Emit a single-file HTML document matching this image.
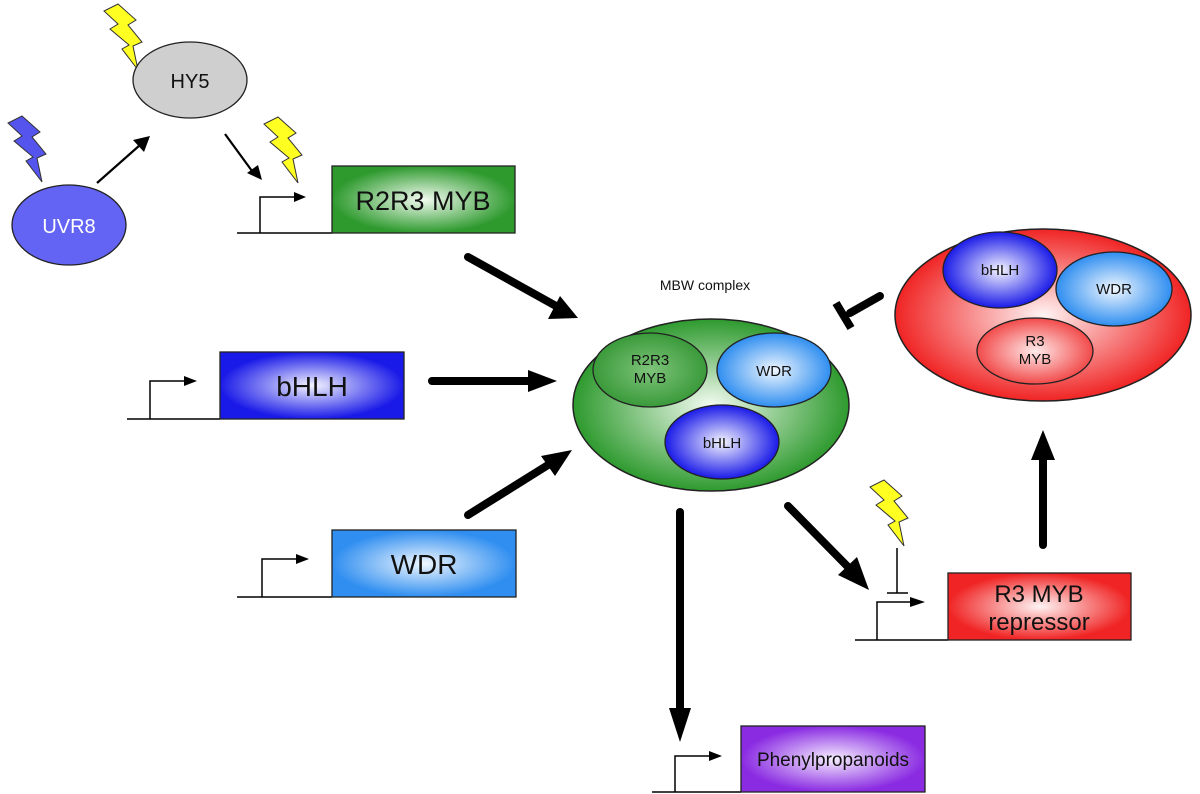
<!DOCTYPE html>
<html><head><meta charset="utf-8"><style>
html,body{margin:0;padding:0;background:#fff;}
svg{display:block;}
text{font-family:"Liberation Sans",sans-serif;fill:#111;text-anchor:middle;}
</style></head><body>
<svg width="1200" height="794" viewBox="0 0 1200 794" xmlns="http://www.w3.org/2000/svg">
<defs>
<radialGradient id="gGreen"><stop offset="0" stop-color="#f2fbf0"/><stop offset="1" stop-color="#2e9a2e"/></radialGradient>
<radialGradient id="gGreen2"><stop offset="0" stop-color="#7ec47a"/><stop offset="1" stop-color="#3a9a3a"/></radialGradient>
<radialGradient id="gBlue"><stop offset="0" stop-color="#f4f4ff"/><stop offset="1" stop-color="#1a1ae8"/></radialGradient>
<radialGradient id="gLBlue"><stop offset="0" stop-color="#f0f7ff"/><stop offset="1" stop-color="#2f8ef0"/></radialGradient>
<radialGradient id="gRed"><stop offset="0" stop-color="#fff4f4"/><stop offset="1" stop-color="#f02424"/></radialGradient>
<radialGradient id="gRed2"><stop offset="0" stop-color="#ffeaea"/><stop offset="1" stop-color="#f24a4a"/></radialGradient>
<radialGradient id="gPurple"><stop offset="0" stop-color="#f6eeff"/><stop offset="1" stop-color="#8a2be2"/></radialGradient>
<path id="bolt" d="M14,0 L32,16 L24,21 L38,38 L29,42 L34,66 L18,45 L25,41 L6,25 L14,20 L0,7 Z" stroke="#333" stroke-width="1"/>
</defs>

<!-- bolts -->
<use href="#bolt" x="104" y="4" fill="#ffff22"/>
<use href="#bolt" x="8" y="116" fill="#5555ee"/>
<use href="#bolt" x="264" y="117" fill="#ffff22"/>
<use href="#bolt" x="870" y="480" fill="#ffff22"/>

<!-- HY5 / UVR8 -->
<ellipse cx="190" cy="80" rx="57" ry="38" fill="#cfcfcf" stroke="#222" stroke-width="1.3"/>
<text x="190" y="88" font-size="20">HY5</text>
<ellipse cx="69" cy="225" rx="57" ry="40" fill="#6464f4" stroke="#222" stroke-width="1.3"/>
<text x="69" y="233" font-size="20" style="fill:#fff">UVR8</text>
<g stroke="#000" stroke-width="2.2">
<line x1="97" y1="183" x2="140" y2="145"/>
<line x1="225" y1="134" x2="252" y2="171"/>
</g>
<path d="M150,136 L144,152 L133,140 Z" fill="#000"/>
<path d="M262,180 L247,173 L258,165 Z" fill="#000"/>

<!-- gene tracks -->
<g stroke="#000" stroke-width="1.5" fill="none">
<path d="M237,233 H332 M260,233 V197 H296"/>
<path d="M127,419 H220 M150,419 V381 H186"/>
<path d="M237,597 H332 M262,597 V559 H298"/>
<path d="M855,640 H948 M877,640 V602 H912"/>
<path d="M652,792 H741 M675,792 V756 H711"/>
<path d="M897,548 V593 M887,593 H908"/>
</g>
<g fill="#000">
<path d="M294,192 L306,197 L294,202 Z"/>
<path d="M184,376 L197,381 L184,386 Z"/>
<path d="M296,554 L309,559 L296,564 Z"/>
<path d="M910,597 L925,602 L910,607 Z"/>
<path d="M709,751 L722,756 L709,761 Z"/>
</g>

<!-- boxes -->
<rect x="332" y="166" width="183" height="67" fill="url(#gGreen)" stroke="#222" stroke-width="1.3"/>
<text x="423" y="210" font-size="27">R2R3 MYB</text>
<rect x="220" y="352" width="184" height="67" fill="url(#gBlue)" stroke="#222" stroke-width="1.3"/>
<text x="312" y="396" font-size="28">bHLH</text>
<rect x="332" y="530" width="184" height="67" fill="url(#gLBlue)" stroke="#222" stroke-width="1.3"/>
<text x="424" y="574" font-size="28">WDR</text>
<rect x="948" y="573" width="183" height="67" fill="url(#gRed)" stroke="#222" stroke-width="1.3"/>
<text x="1039" y="602" font-size="24">R3 MYB</text>
<text x="1039" y="630" font-size="24">repressor</text>
<rect x="741" y="726" width="184" height="66" fill="url(#gPurple)" stroke="#222" stroke-width="1.3"/>
<text x="833" y="766" font-size="19">Phenylpropanoids</text>

<!-- MBW complex -->
<text x="705" y="290" font-size="14">MBW complex</text>
<ellipse cx="711" cy="405" rx="138" ry="86" fill="url(#gGreen)" stroke="#222" stroke-width="1.5"/>
<ellipse cx="650" cy="370" rx="57" ry="37" fill="url(#gGreen2)" stroke="#222" stroke-width="1.3"/>
<text x="650" y="365" font-size="15">R2R3</text>
<text x="650" y="383" font-size="15">MYB</text>
<ellipse cx="774" cy="370" rx="57" ry="37" fill="url(#gLBlue)" stroke="#222" stroke-width="1.3"/>
<text x="774" y="376" font-size="15">WDR</text>
<ellipse cx="722" cy="442" rx="57" ry="37" fill="url(#gBlue)" stroke="#222" stroke-width="1.3"/>
<text x="722" y="448" font-size="15">bHLH</text>

<!-- red complex -->
<ellipse cx="1043" cy="315" rx="148" ry="86" fill="url(#gRed)" stroke="#222" stroke-width="1.5"/>
<ellipse cx="1000" cy="270" rx="57" ry="38" fill="url(#gBlue)" stroke="#222" stroke-width="1.3"/>
<text x="1000" y="275" font-size="15">bHLH</text>
<ellipse cx="1114" cy="289" rx="58" ry="37" fill="url(#gLBlue)" stroke="#222" stroke-width="1.3"/>
<text x="1114" y="294" font-size="15">WDR</text>
<ellipse cx="1035" cy="351" rx="58" ry="33" fill="url(#gRed2)" stroke="#222" stroke-width="1.3"/>
<text x="1035" y="346" font-size="15">R3</text>
<text x="1035" y="364" font-size="15">MYB</text>

<!-- thick arrows -->
<g stroke="#000" stroke-width="8" stroke-linecap="round" fill="none">
<line x1="468" y1="257" x2="556" y2="306"/>
<line x1="432" y1="381" x2="530" y2="381"/>
<line x1="468" y1="515" x2="548" y2="465"/>
<line x1="680" y1="512" x2="680" y2="712"/>
<line x1="788" y1="506" x2="851" y2="570"/>
<line x1="1043" y1="545" x2="1043" y2="455"/>
<line x1="880" y1="296" x2="850" y2="313"/>
<line x1="836" y1="303" x2="851" y2="328" stroke-linecap="butt"/>
</g>
<g fill="#000">
<path d="M578,318 L548,319 L560,296 Z"/>
<path d="M557,381 L528,370 L528,392 Z"/>
<path d="M572,450 L541,456 L555,476 Z"/>
<path d="M680,742 L669,708 L691,708 Z"/>
<path d="M869,590 L838,575 L857,557 Z"/>
<path d="M1043,430 L1031,460 L1055,460 Z"/>
</g>
</svg>
</body></html>
